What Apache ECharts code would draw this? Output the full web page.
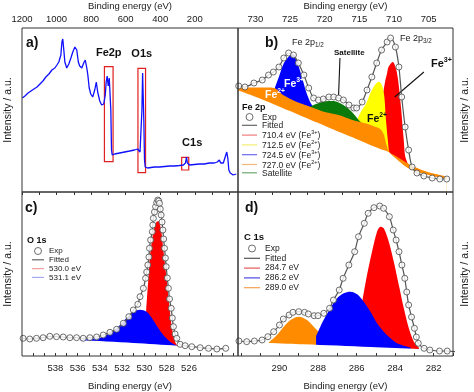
<!DOCTYPE html>
<html><head><meta charset="utf-8">
<script src="https://cdn.jsdelivr.net/npm/echarts@6.0.0/dist/echarts.min.js"></script>
<style>html,body{margin:0;padding:0;background:#fff;}#chart{width:474px;height:392px;}</style>
</head><body><div id="chart"></div>
<script>
// ---------------- DATA (binding energy eV, intensity a.u.) ----------------
// a) survey
const surveyData = [[1198,94],[1183,96],[1165,99],[1148,101],[1131,103],[1113,105],[1096,108],[1079,111],[1062,115],[1044,118],[1027,122],[1010,124],[998,127],[987,130],[975,137],[969,150],[964,153],[958,142],[952,130],[941,124],[929,128],[917,134],[906,140],[894,145],[883,142],[874,130],[866,126],[854,124],[843,129],[834,132],[825,124],[819,117],[811,104],[802,98],[791,95],[779,102],[770,110],[762,100],[750,91],[739,87],[727,88],[718,97],[713,110],[707,116],[701,106],[695,114],[690,116],[686,82],[682,42],[678,37],[664,38],[635,39],[606,40],[577,41],[549,42],[531,43],[522,45],[517,40],[511,42],[506,82],[502,119],[498,117],[495,72],[491,32],[487,25],[473,24],[433,25],[404,25],[375,25.5],[346,26],[318,26],[289,26.5],[266,27],[254,29],[248,35],[243,29],[231,27],[202,27.5],[174,28],[145,28],[116,29],[87,29],[70,30],[58,32],[50,29],[35,29],[24,30],[15,40],[9,34],[3,22],[-5,19],[-22,17],[-40,18]];
const surveyBoxes = [
  {name:'Fe2p', from:[723,125.3], to:[673,30.3]},
  {name:'O1s',  from:[529,123.7], to:[485,19.3]},
  {name:'C1s',  from:[276,34.7],  to:[235,22]}
];
const aTickLabels = [1200,1000,800,600,400,200];
const aTicks = [1200,1100,1000,900,800,700,600,500,400,300,200,100,0];

// b) Fe 2p
const fe2pExp = [[732.4,106],[731.5,105],[730.2,109],[729.0,112],[728.1,117],[727.4,120],[726.6,125],[725.9,134],[725.2,139],[724.5,137],[723.8,129],[723.0,117],[722.3,104],[721.6,94],[720.9,92],[720.2,93],[719.4,95],[718.7,95],[718.0,94],[717.3,92],[716.5,87],[715.8,84],[715.4,84],[714.6,90],[713.9,102],[713.2,115],[712.5,129],[711.8,142],[711.0,150],[710.5,154],[709.8,145],[709.3,125],[708.9,95],[708.4,65],[707.9,42],[707.4,25],[706.7,19],[705.7,16],[704.5,14],[703.4,13],[702.4,13]];
const fe2pFit = fe2pExp;
const fe2pBg = [[732.6,102],[730,95.3],[728,89.7],[726,83.7],[724,78],[722,72],[720,66.3],[718,60.3],[716,54.7],[714,48.7],[712,43],[710.8,40],[710,35],[708,24],[706,18.7],[704,15.3],[702.4,13]];
const fe2p7104 = [[713.6,49],[712.5,70],[711.8,90],[711.3,110],[711.0,119],[710.8,125],[710.2,130],[709.6,120],[709.1,92],[708.6,52],[708.4,36],[708.0,28]];
const fe2p7125 = [[715.4,70],[714.9,78.7],[714.0,88.7],[713.2,102],[712.2,110.3],[711.75,107],[711.4,95.3],[711.2,75.3],[710.9,52],[710.7,40.3],[710.3,35]];
const fe2p7245 = [[727.4,100],[726.6,115.3],[725.9,128.7],[725.2,135.3],[724.7,137],[724.0,130.3],[723.3,115.3],[722.6,98.7],[722.0,88.7],[721.5,83.7],[721.0,80]];
const fe2p7270 = [[732.6,104],[730,104.5],[728,104.5],[727.1,103.5],[726,97],[724,90],[722,85],[720,80],[718,77],[716,72],[714,68.5],[713,66],[712,63],[711.5,58],[711.2,50],[710.9,43],[710.6,39],[710,37],[708,28.5],[706,22],[704,18],[702.4,15.5]];
const fe2pSat = [[722.8,82],[721.6,87],[720.2,90.3],[718.7,91],[717.3,87],[716.1,80.3],[715.1,72],[714.6,68.7]];
const fe2pArrows = [[[717.8,134],[718.0,96]],[[705.7,120],[709.9,95]]];
const bTickLabels = [730,725,720,715,710,705];
const bTicks = [730,727.5,725,722.5,720,717.5,715,712.5,710,707.5,705,702.5];

// c) O 1s
const o1sExp = [[540.9,17.7],[540.3,17],[539.7,17.7],[539.1,18.3],[538.5,19.7],[537.9,19.3],[537.3,19],[536.7,18.3],[536.1,18.3],[535.5,17.7],[534.9,18.3],[534.3,19],[533.7,21],[533.1,23.7],[532.5,26.7],[531.9,32.7],[531.4,39.3],[531.0,46],[530.6,51.7],[530.4,59.3],[530.1,67.7],[529.9,77.7],[529.8,84],[529.7,91],[529.6,99],[529.55,107.7],[529.45,116],[529.3,124.3],[529.25,131],[529.2,137.7],[529.1,144],[529.0,149.3],[528.9,153.5],[528.8,156],[528.72,155],[528.65,152.7],[528.58,147],[528.5,141],[528.42,134],[528.35,126],[528.28,117],[528.2,107.7],[528.12,98],[528.05,89.3],[527.95,78],[527.85,67.7],[527.75,57],[527.6,47.7],[527.5,38],[527.4,29.3],[527.25,22],[527.1,17.7],[526.8,11.7],[526.35,10.3],[525.75,9.3],[525.0,8.3],[524.25,7.7],[523.5,7],[522.7,7.7]];
const o1sFit = o1sExp;
const o1sBg = [[540.9,16.7],[535.8,15.7],[531.0,13],[527.05,10.3],[526.5,9.5]];
const o1s5300 = [[530.4,14.3],[529.95,34.3],[529.8,54.3],[529.65,77.7],[529.5,101],[529.25,121],[529.0,132.7],[528.77,135],[528.53,127.7],[528.3,106],[528.05,81],[527.8,54.3],[527.55,29.3],[527.25,14.3],[527.05,10.3]];
const o1s5311 = [[535.8,16],[534.9,17],[534.0,18.3],[533.4,21],[532.8,25],[532.2,31],[531.6,38.3],[531.0,44.3],[530.4,46.3],[529.8,44.3],[529.35,38.3],[528.9,30.3],[528.3,21],[527.7,14.3],[527.1,10.3]];
const cTickLabels = [538,536,534,532,530,528,526];
const cTicks = [540,539,538,537,536,535,534,533,532,531,530,529,528,527,526,525,524,523,522];

// d) C 1s
const c1sExp = [[292.1,15],[291.7,14.3],[291.3,15],[290.9,16],[290.6,19.3],[290.3,24.3],[290.0,31],[289.8,37],[289.5,41],[289.3,43.7],[289.0,44.3],[288.7,43.7],[288.5,42],[288.2,40.3],[288.0,40.3],[287.7,42.7],[287.4,47.7],[287.2,56],[286.9,66],[286.7,77.7],[286.4,91],[286.1,104.3],[285.9,119.3],[285.6,132.7],[285.4,142.7],[285.1,148.3],[284.8,150],[284.6,147.7],[284.3,139.3],[284.1,126],[283.95,116],[283.8,104.3],[283.65,91],[283.5,77.7],[283.4,64],[283.3,51],[283.15,39],[283.0,27.7],[282.9,19],[282.8,12.7],[282.5,7.7],[282.2,6],[281.7,5],[281.3,5],[280.9,4.3]];
const c1sFit = c1sExp;
const c1sBg = [[292.2,14.3],[288.74,11.7],[285.28,9],[282.77,7],[282.5,6.8]];
const c1s2847 = [[286.2,10.5],[285.97,27.7],[285.71,54.3],[285.46,81],[285.2,104.3],[284.94,124.3],[284.76,129.3],[284.59,127.7],[284.33,114.3],[284.07,94.3],[283.81,71],[283.55,47.7],[283.29,27.7],[283.03,14.3],[282.77,8.3]];
const c1s2862 = [[288.1,20],[287.88,29.3],[287.71,36],[287.36,47.7],[287.01,57.7],[286.67,62.7],[286.32,64.3],[285.97,61.7],[285.63,54.3],[285.28,44.3],[284.94,32.7],[284.59,24.3],[284.24,17.7],[283.9,12.7],[283.55,10.3],[283.2,8.5]];
const c1s2890 = [[290.56,13.5],[290.13,21],[289.78,29.3],[289.43,36],[289.0,39.3],[288.57,36],[288.22,29.3],[287.97,24.3],[287.53,17.7],[287.01,12.7],[286.32,10.5]];
const dTickLabels = [290,288,286,284,282];
const dTicks = [292,291,290,289,288,287,286,285,284,283,282,281];

// ---------------- STYLE / BUILD ----------------
const FF = '"Liberation Sans", Arial, Helvetica, sans-serif';
const TXT = '#1a1a1a';
const C = {red:'#ff0000', yellow:'#ffff00', blue:'#0000ff', orange:'#ff8c00', green:'#0a7a0a', survey:'#1010ff', fit:'#555555', exp:'#4a4a4a'};

const LINE = (w,h) => `path://M0,0M${w},${h}M0,${h/2-0.6}h${w}v1.2h-${w}z`;

function area(name, data, color, idx, z) {
  return {type:'line', name, data, xAxisIndex:idx, yAxisIndex:idx, z, silent:true,
    showSymbol:false, symbol:'none', smooth:0.3,
    lineStyle:{width:0, color}, itemStyle:{color}, areaStyle:{color, opacity:1, origin:'start'}};
}
function fitted(data, idx) {
  return {type:'line', name:'Fitted', data, xAxisIndex:idx, yAxisIndex:idx, z:8, silent:true,
    showSymbol:false, symbol:'none', smooth:0.3, itemStyle:{color:C.fit}, lineStyle:{color:C.fit, width:1.2}};
}
function exp(data, idx, extra) {
  return Object.assign({type:'scatter', name:'Exp', data, xAxisIndex:idx, yAxisIndex:idx, z:9, silent:true,
    symbol:'circle', symbolSize:6, itemStyle:{color:'#ffffff', borderColor:C.exp, borderWidth:1}}, extra||{});
}

function xAx(idx, min, max, pos, labels, ticks, lfs) {
  const top = pos === 'top';
  return {gridIndex:idx, type:'value', position:pos, inverse:true, min, max, z:10,
    name:'Binding energy (eV)', nameLocation:'middle', nameGap: top ? 17 : 25,
    nameTextStyle:{fontSize:9.5, color:TXT, fontFamily:FF},
    axisLine:{show:false}, splitLine:{show:false},
    axisTick:{show:true, inside:true, length:3, customValues:ticks, lineStyle:{color:'#333', width:1}},
    axisLabel:{show:true, customValues:labels, fontSize:lfs, color:TXT, fontFamily:FF, margin: top ? 4 : 7,
      formatter: v => String(v)}};
}
function yAx(idx, pos) {
  return {gridIndex:idx, type:'value', min:0, max:164, position:pos,
    name:'Intensity / a.u.', nameLocation:'middle', nameRotate:90, nameGap: pos==='left' ? 8 : 7,
    nameTextStyle:{fontSize:10.5, color:TXT, fontFamily:FF},
    axisLine:{show:false}, axisTick:{show:false}, axisLabel:{show:false}, splitLine:{show:false}};
}

function legendRich(f, p) {
  return {
    m:{fontSize:f, fontFamily:FF, color:TXT, verticalAlign:'bottom', padding:[p,0,0,0]},
    s:{fontSize:f*0.65, fontFamily:FF, color:TXT, verticalAlign:'top'}
  };
}
function legendFmt(n) {
  const m = n.match(/^(.*\(Fe)(\d\+)(\))$/);
  return m ? `{m|${m[1]}}{s|${m[2]}}{m|${m[3]}}` : `{m|${n}}`;
}
function legend(left, top, iw, ih, gap, f, p, items) {
  return {left, top, z:30, orient:'vertical', padding:0, itemWidth:iw, itemHeight:ih, itemGap:gap,
    selectedMode:false, formatter:legendFmt, textStyle:{fontSize:f, color:TXT, fontFamily:FF, rich:legendRich(f,p)},
    data: items.map(it => it.name === 'Exp'
      ? {name:'Exp', icon:'circle', itemStyle:{color:'#fff', borderColor:C.exp, borderWidth:1}}
      : {name:it.name, icon:LINE(iw,ih), itemStyle:{color:it.color, borderWidth:0}})};
}

function richSup(size, weight, color) {
  return {
    m:{fontSize:size, fontWeight:weight, fontFamily:FF, fill:color, verticalAlign:'bottom', padding:[size*0.15,0,0,0]},
    s:{fontSize:size*0.65, fontWeight:weight, fontFamily:FF, fill:color, verticalAlign:'top'}
  };
}
function richSub(size, weight, color) {
  return {
    m:{fontSize:size, fontWeight:weight, fontFamily:FF, fill:color, verticalAlign:'top'},
    s:{fontSize:size*0.7, fontWeight:weight, fontFamily:FF, fill:color, verticalAlign:'bottom', padding:[size*0.5,0,0,0]}
  };
}
function txt(x, y, text, size, weight, color, rich) {
  const st = {text, fontSize:size, fontWeight:weight, fontFamily:FF, fill:color, align:'left', verticalAlign:'middle'};
  if (rich) st.rich = rich;
  return {type:'text', x, y, z:40, silent:true, style:st};
}

const option = {
  animation:false,
  backgroundColor:'#ffffff',
  textStyle:{fontFamily:FF},
  grid:[
    {left:22, top:28, width:216, height:164, show:true, borderColor:'#333', borderWidth:1, backgroundColor:'transparent', z:10},
    {left:238, top:28, width:215, height:164, show:true, borderColor:'#333', borderWidth:1, backgroundColor:'transparent', z:10},
    {left:22, top:192, width:216, height:164, show:true, borderColor:'#333', borderWidth:1, backgroundColor:'transparent', z:10},
    {left:238, top:192, width:215, height:164, show:true, borderColor:'#333', borderWidth:1, backgroundColor:'transparent', z:10}
  ],
  xAxis:[
    xAx(0, -50, 1200, 'top', aTickLabels, aTicks, 9.5),
    xAx(1, 701.5, 732.5, 'top', bTickLabels, bTicks, 9.5),
    xAx(2, 521.6, 541, 'bottom', cTickLabels, cTicks, 9.5),
    xAx(3, 281, 292.15, 'bottom', dTickLabels, dTicks, 9.5)
  ],
  yAxis:[yAx(0,'left'), yAx(1,'right'), yAx(2,'left'), yAx(3,'right')],
  legend:[
    legend(242, 113, 15, 7, -0.7, 8.5, 1.5, [
      {name:'Exp'},{name:'Fitted',color:'#666'},{name:'710.4 eV (Fe3+)',color:'#f07a7a'},
      {name:'712.5 eV (Fe2+)',color:'#f2ec70'},{name:'724.5 eV (Fe3+)',color:'#6a6af0'},
      {name:'727.0 eV (Fe2+)',color:'#f5b478'},{name:'Satellite',color:'#6fa86f'}]),
    legend(32, 247, 12, 7, 0.8, 8, 0, [
      {name:'Exp'},{name:'Fitted',color:'#666'},{name:'530.0 eV',color:'#f4a0a0'},{name:'531.1 eV',color:'#a8a8f0'}]),
    legend(244, 244, 16, 7, 0.8, 8.5, 0, [
      {name:'Exp'},{name:'Fitted',color:'#555'},{name:'284.7 eV',color:'#e85a5a'},{name:'286.2 eV',color:'#4a4ae8'},{name:'289.0 eV',color:'#f5a050'}])
  ],
  series:[
    // a) survey
    {type:'line', name:'Survey', data:surveyData, xAxisIndex:0, yAxisIndex:0, z:3, silent:true,
      showSymbol:false, symbol:'none', lineStyle:{color:C.survey, width:1.3}, itemStyle:{color:C.survey},
      markArea:{silent:true, itemStyle:{color:'rgba(0,0,0,0)', borderColor:'#e02020', borderWidth:1.2},
        label:{show:true, position:'top', distance:8, fontSize:11, fontWeight:'bold', color:'#111', fontFamily:FF},
        data: surveyBoxes.map(b => [{name:b.name, coord:b.from, label: b.name==='C1s' ? {offset:[7,0]} : undefined},{coord:b.to}])}},
    // b) Fe 2p
    area('710.4 eV (Fe3+)', fe2p7104, C.red, 1, 2),
    area('712.5 eV (Fe2+)', fe2p7125, C.yellow, 1, 3),
    area('724.5 eV (Fe3+)', fe2p7245, C.blue, 1, 4),
    area('Satellite', fe2pSat, C.green, 1, 5),
    area('727.0 eV (Fe2+)', fe2p7270, C.orange, 1, 6),
    area('bgFe', fe2pBg, '#ffffff', 1, 7),
    fitted(fe2pFit, 1),
    exp(fe2pExp, 1, {markLine:{silent:true, symbol:['none','arrow'], symbolSize:[0,7],
      lineStyle:{color:'#111', width:1.1, type:'solid'}, label:{show:false},
      data: fe2pArrows.map(a => [{coord:a[0]},{coord:a[1]}])}}),
    // c) O 1s
    area('530.0 eV', o1s5300, C.red, 2, 2),
    area('531.1 eV', o1s5311, C.blue, 2, 4),
    area('bgO', o1sBg, '#ffffff', 2, 7),
    fitted(o1sFit, 2),
    exp(o1sExp, 2),
    // d) C 1s
    area('284.7 eV', c1s2847, C.red, 3, 2),
    area('289.0 eV', c1s2890, C.orange, 3, 3),
    area('286.2 eV', c1s2862, C.blue, 3, 4),
    area('bgC', c1sBg, '#ffffff', 3, 7),
    fitted(c1sFit, 3),
    exp(c1sExp, 3)
  ],
  graphic:[
    txt(26, 43, 'a)', 14, 'bold', '#111'),
    txt(265, 43, 'b)', 14, 'bold', '#111'),
    txt(25, 208, 'c)', 14, 'bold', '#111'),
    txt(245, 208, 'd)', 14, 'bold', '#111'),
    txt(292, 43, '{m|Fe 2p}{s|1/2}', 9, 'normal', '#222', richSub(9,'normal','#222')),
    txt(400, 39, '{m|Fe 2p}{s|3/2}', 9, 'normal', '#222', richSub(9,'normal','#222')),
    txt(334, 53, 'Satellite', 8, 'bold', '#111'),
    txt(431, 63, '{m|Fe}{s|3+}', 11, 'bold', '#111', richSup(11,'bold','#111')),
    txt(284, 83, '{m|Fe}{s|3+}', 10.5, 'bold', '#ffffff', richSup(10.5,'bold','#ffffff')),
    txt(265, 94, '{m|Fe}{s|2+}', 10.5, 'bold', '#ffffff', richSup(10.5,'bold','#ffffff')),
    txt(367, 118, '{m|Fe}{s|2+}', 10.5, 'bold', '#111', richSup(10.5,'bold','#111')),
    txt(242, 108, 'Fe 2p', 9, 'bold', '#111'),
    txt(27, 241, 'O 1s', 9, 'bold', '#111'),
    txt(244, 237, 'C 1s', 9.5, 'bold', '#111')
  ]
};

const chart = echarts.init(document.getElementById('chart'), null, {renderer:'canvas'});
chart.setOption(option);
</script></body></html>
